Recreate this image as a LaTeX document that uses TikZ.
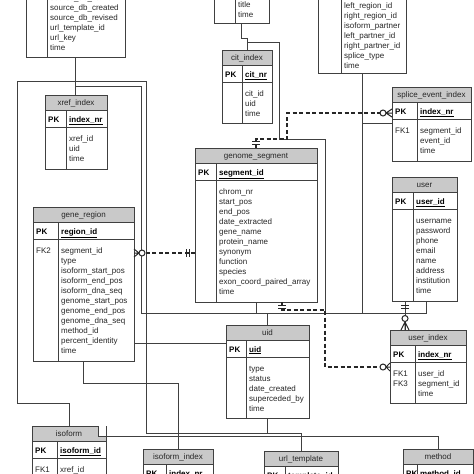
\documentclass[tikz,border=0pt]{standalone}
\usepackage{fontspec}
\setmainfont{Liberation Sans}
\usetikzlibrary{calc}
\definecolor{hdrgray}{HTML}{C9C9C9}
\definecolor{lncol}{HTML}{404040}
\definecolor{txtcol}{HTML}{262626}
\tikzset{
  tblline/.style={draw=lncol, line width=0.8pt},
  rel/.style={draw=lncol, line width=0.8pt},
  drel/.style={draw=black!85, line width=1.3pt, dash pattern=on 4pt off 2.5pt},
  relmark/.style={draw=black!85, line width=1pt},
  ttltxt/.style={font=\fontsize{8}{10}\selectfont, text=txtcol, inner sep=0, anchor=base},
  pktxt/.style={font=\fontsize{8}{10}\selectfont\bfseries, text=black, inner sep=0, anchor=base west},
  bodytxt/.style={font=\fontsize{8}{10}\selectfont, text=txtcol, inner sep=0, align=left, anchor=north west},
  boxnode/.style={inner sep=0, outer sep=0, anchor=north west},
}
\newcommand\ertable[9]{%
  \node[boxnode, minimum width={#4-#2}, minimum height={#5-#3}] (#1) at (#2,#3) {};
  \fill[white] (#2,#3) rectangle (#4,#5);
  \fill[hdrgray] (#2,#3) rectangle (#4,#3+15.5);
  \draw[tblline] (#2,#3+15.5) -- (#4,#3+15.5) (#2,#3+32.5) -- (#4,#3+32.5) (#6,#3+15.5) -- (#6,#5);
  \draw[tblline] (#2,#3) rectangle (#4,#5);
  \node[ttltxt] at ({(#2+#4)/2},#3+10.8) {#7};
  \node[pktxt] at (#2+3,#3+27) {PK};
  \node[pktxt] at (#6+3,#3+27) {\underline{#8}};
  \node[bodytxt] at (#6+3,#3+40) {\rule{0pt}{6pt}#9};
}
\begin{document}
\begin{tikzpicture}[x=1pt,y=-1pt]
\useasboundingbox (0,0) rectangle (474,474);
\fill[white] (0,0) rectangle (474,474);
\clip (0,0) rectangle (474,474);

% ---------- partial tables at the top ----------
\node[boxnode, minimum width=99, minimum height=77] (tl) at (26,-20) {};
\fill[white] (26,-20) rectangle (125,57);
\draw[tblline] (26,-20) rectangle (125,57) (47,-20) -- (47,57);
\node[bodytxt] at (50,-5.5) {\rule{0pt}{6pt}source\_db\_name\\source\_db\_created\\source\_db\_revised\\url\_template\_id\\url\_key\\time};

\node[boxnode, minimum width=55, minimum height=43] (tm) at (214,-20) {};
\fill[white] (214,-20) rectangle (269,23);
\draw[tblline] (214,-20) rectangle (269,23) (235,-20) -- (235,23);
\node[bodytxt] at (238,1) {\rule{0pt}{6pt}title\\time};

\node[boxnode, minimum width=88, minimum height=93] (tr) at (318,-20) {};
\fill[white] (318,-20) rectangle (406,73);
\draw[tblline] (318,-20) rectangle (406,73) (341,-20) -- (341,73);
\node[bodytxt] at (344,2.5) {\rule{0pt}{6pt}left\_region\_id\\right\_region\_id\\isoform\_partner\\left\_partner\_id\\right\_partner\_id\\splice\_type\\time};

% ---------- full tables ----------
\ertable{xref}{45}{95}{107}{169}{66}{xref\_index}{index\_nr}{xref\_id\\uid\\time}
\ertable{cit}{222}{50}{272}{123}{242}{cit\_index}{cit\_nr}{cit\_id\\uid\\time}
\ertable{sei}{392}{87}{471}{161}{417}{splice\_event\_index}{index\_nr}{segment\_id\\event\_id\\time}
\node[bodytxt] at (395,127) {\rule{0pt}{6pt}FK1};
\ertable{gs}{195}{148}{317}{302}{216}{genome\_segment}{segment\_id}{chrom\_nr\\start\_pos\\end\_pos\\date\_extracted\\gene\_name\\protein\_name\\synonym\\function\\species\\exon\_coord\_paired\_array\\time}
\ertable{gr}{33}{207}{134}{361}{58}{gene\_region}{region\_id}{segment\_id\\type\\isoform\_start\_pos\\isoform\_end\_pos\\isoform\_dna\_seq\\genome\_start\_pos\\genome\_end\_pos\\genome\_dna\_seq\\method\_id\\percent\_identity\\time}
\node[bodytxt] at (36,247) {\rule{0pt}{6pt}FK2};
\ertable{user}{392}{177}{457}{301}{413}{user}{user\_id}{username\\password\\phone\\email\\name\\address\\institution\\time}
\ertable{uid}{226}{325}{309}{418}{246}{uid}{uid}{type\\status\\date\_created\\superceded\_by\\time}
\ertable{ui}{390}{330}{466}{403}{415}{user\_index}{index\_nr}{user\_id\\segment\_id\\time}
\node[bodytxt] at (393,370) {\rule{0pt}{6pt}FK1\\FK3};
\ertable{iso}{32}{426}{106}{490}{57}{isoform}{isoform\_id}{xref\_id}
\node[bodytxt] at (35,466) {\rule{0pt}{6pt}FK1};
\fill[white] (98,426.4) rectangle (105.6,436);
\ertable{isoi}{143}{449}{213}{490}{166}{isoform\_index}{index\_nr}{}
\ertable{urlt}{264}{451}{338}{490}{285}{url\_template}{template\_id}{}
\ertable{meth}{403}{449}{473}{490}{417}{method}{method\_id}{}

% ---------- helper coordinates ----------
\coordinate (y81) at (0,81);
\coordinate (y86) at (0,86);
\coordinate (y123) at (0,123);
\coordinate (y253) at (0,253);
\coordinate (y313) at (0,313);
\coordinate (y343) at (0,343);
\coordinate (y433) at (0,433);
\coordinate (j81) at (tl.south |- y81);
\coordinate (j86) at (tl.south |- y86);
\coordinate (jc42) at (247,42);
\coordinate (j313r) at (325,313);
\coordinate (j313t) at (tr.south |- y313);
\coordinate (j433) at (uid.south |- y433);

% ---------- solid connectors ----------
\draw[rel] (tl.south) -- (tl.south |- xref.north);
\draw[rel] (j81) -- (17,81) -- (17,403) -| (iso.north);
\draw[rel] (j81) -- (146,81) -- (146,433) -| (urlt.north);
\draw[rel] (j86) -- (141,86) -- (141,313) -| ([xshift=1.5pt]user.south);
\draw[rel] (gs.south) -- ++(0,11) -| (uid.north);
\draw[rel] (uid.south) -- (j433);
\draw[rel] (tr.south) -- (j313t);
\draw[rel] (tr.south |- y123) -- (sei.west |- y123);
\draw[rel] (tm.south) -- ++(0,15) -- ++(5.5,0) -- (cit.north);
\draw[rel] (jc42) -- (279,42) -- (279,139) -- (325,139) -- (j313r);
\draw[rel] (gr.east |- y343) -- (uid.west |- y343);
\draw[rel] (gr.south) -- ++(0,22) -| (isoi.north);
\draw[rel] ([xshift=-8pt]iso.north east) -- ++(0,10) -| (meth.north);
\draw[rel] ([xshift=-19.5pt]user.south) -- ([xshift=-19.5pt]user.south |- ui.north);

% ---------- dashed (identifying) connectors ----------
\draw[drel] (gs.west |- y253) -- (145,253);
\draw[drel] (gs.north) -- ++(0,-9) -- (287,139) -- (287,113) -- (380,113);
\draw[drel] ([xshift=26pt]gs.south) -- ++(0,8) -- (325,310) -- (325,367) -- (380,367);

% ---------- cardinality marks ----------
\draw[relmark] (186,249) -- (186,257) (189,249) -- (189,257);
\draw[relmark, fill=white] (142,253) circle (3);
\draw[relmark] (139,253) -- (134,249) (139,253) -- (134,253) (139,253) -- (134,257);

\draw[relmark] (252,141.5) -- (260,141.5) (252,144.5) -- (260,144.5);
\draw[relmark, fill=white] (383,113) circle (3);
\draw[relmark] (386,113) -- (392,109) (386,113) -- (392,113) (386,113) -- (392,117);

\draw[relmark] (278,305) -- (286,305) (278,308) -- (286,308);
\draw[relmark, fill=white] (383,367) circle (3);
\draw[relmark] (386,367) -- (390,363) (386,367) -- (390,367) (386,367) -- (390,371);

\draw[relmark] (401,305) -- (409,305) (401,308) -- (409,308);
\draw[relmark, fill=white] (405,318.5) circle (3);
\draw[relmark] (405,322) -- (401,330) (405,322) -- (405,330) (405,322) -- (409,330);
\end{tikzpicture}
\end{document}
